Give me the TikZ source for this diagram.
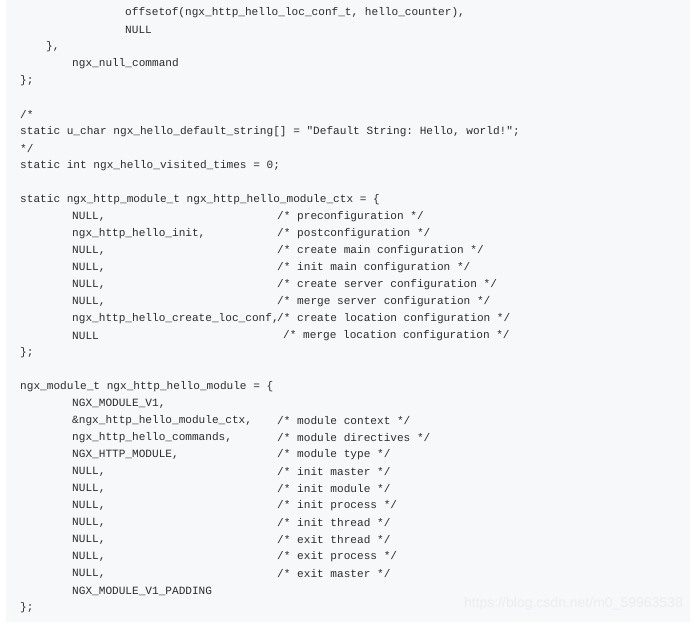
\documentclass[tikz,border=0pt]{standalone}
\usepackage{fontspec}
\setmonofont{Liberation Mono}
\setsansfont{Liberation Sans}
\definecolor{bg}{HTML}{F6F8FA}
\definecolor{code}{HTML}{2B2B2B}
\definecolor{wm}{HTML}{EBEDF0}
\tikzset{ln/.style={anchor=west,inner sep=0pt,text=code,font=\ttfamily\fontsize{11.1}{12}\selectfont}}
\begin{document}
\begin{tikzpicture}[x=1pt,y=1pt]
\useasboundingbox (0,0) rectangle (693,-622);
\fill[bg] (6,0) rectangle (690,-622);
\node[ln] (l1) at (125,-13) {offsetof(ngx\_http\_hello\_loc\_conf\_t, hello\_counter),};
\node[ln] (l2) at (125,-30) {NULL};
\node[ln] (l3) at (46,-47) {\},};
\node[ln] (l4) at (72,-64) {ngx\_null\_command};
\node[ln] (l5) at (20,-81) {\};};
\node[ln] (l6) at (20,-115) {/*};
\node[ln] (l7) at (20,-132) {static u\_char ngx\_hello\_default\_string[] = "Default String: Hello, world!";};
\node[ln] (l8) at (20,-149) {*/};
\node[ln] (l9) at (20,-166) {static int ngx\_hello\_visited\_times = 0;};
\node[ln] (l10) at (20,-200) {static ngx\_http\_module\_t ngx\_http\_hello\_module\_ctx = \{};
\foreach \y/\a/\c in {217/{NULL,}/{preconfiguration},234/{ngx\_http\_hello\_init,}/{postconfiguration},251/{NULL,}/{create main configuration},268/{NULL,}/{init main configuration},285/{NULL,}/{create server configuration},302/{NULL,}/{merge server configuration}}{
  \node[ln] (a\y) at (72,-\y) {\a};
  \node[ln] (c\y) at (277,-\y) {/* \c\ */};
}
\node[ln] (a319) at (72,-319) {ngx\_http\_hello\_create\_loc\_conf,};
\node[ln] (c319) at (277,-319) {/* create location configuration */};
\node[ln] (a336) at (72,-336) {NULL};
\node[ln] (c336) at (283,-336) {/* merge location configuration */};
\node[ln] (e353) at (20,-353) {\};};
\node[ln] (m387) at (20,-387) {ngx\_module\_t ngx\_http\_hello\_module = \{};
\node[ln] (m404) at (72,-404) {NGX\_MODULE\_V1,};
\foreach \y/\a/\c in {421/{\&ngx\_http\_hello\_module\_ctx,}/{module context},438/{ngx\_http\_hello\_commands,}/{module directives},455/{NGX\_HTTP\_MODULE,}/{module type},472/{NULL,}/{init master},489/{NULL,}/{init module},506/{NULL,}/{init process},523/{NULL,}/{init thread},540/{NULL,}/{exit thread},557/{NULL,}/{exit process},574/{NULL,}/{exit master}}{
  \node[ln] (a\y) at (72,-\y) {\a};
  \node[ln] (c\y) at (277,-\y) {/* \c\ */};
}
\node[ln] (m591) at (72,-591) {NGX\_MODULE\_V1\_PADDING};
\node[ln] (e608) at (20,-608) {\};};
\node[anchor=east,inner sep=0pt,text=wm,font=\sffamily\fontsize{14}{16}\selectfont] (wm) at (683,-604) {https://blog.csdn.net/m0\_59963538};
\end{tikzpicture}
\end{document}
